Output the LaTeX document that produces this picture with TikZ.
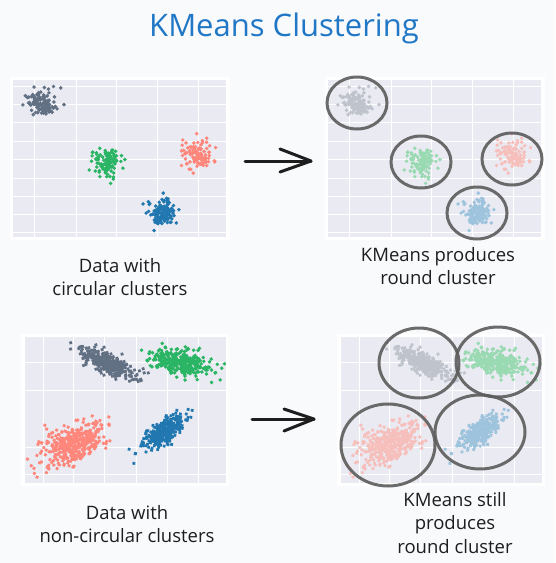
\documentclass[tikz,border=0pt]{standalone}
\usepackage{fontspec}
\setmainfont{Open Sans}
\definecolor{bg}{HTML}{F9FAFC}
\definecolor{panel}{HTML}{EAEAF2}
\definecolor{cg}{HTML}{627084}
\definecolor{cgp}{HTML}{BEC3CC}
\definecolor{cn}{HTML}{2AB564}
\definecolor{cnp}{HTML}{9ADAB2}
\definecolor{cs}{HTML}{FF867A}
\definecolor{csp}{HTML}{F7BFBB}
\definecolor{cb}{HTML}{2177B0}
\definecolor{cbp}{HTML}{9EC4DD}
\definecolor{ink}{HTML}{1E1E1E}
\definecolor{ttl}{HTML}{1F77C6}
\definecolor{ring}{HTML}{5C5C5C}

\newcommand\clust[8]{%
 \pgfmathsetseed{#1}%
 \begin{scope}[shift={(#3,#4)},rotate=#7]
 \foreach \i in {1,...,#2}{%
  \pgfmathsetmacro\ua{rnd*0.998+0.001}%
  \pgfmathsetmacro\ub{rnd}%
  \pgfmathsetmacro\rr{sqrt(-2*ln(\ua))}%
  \pgfmathsetmacro\gx{\rr*cos(360*\ub)*#5}%
  \pgfmathsetmacro\gy{\rr*sin(360*\ub)*#6}%
  \fill[#8] (\gx,\gy) circle[radius=1.95pt];
 }
 \end{scope}}

\newcommand\topdata[1]{%
 \clust{11}{120}{42}{103}{7.5}{6}{0}{cg#1}
 \clust{12}{120}{106}{163}{7}{7}{0}{cn#1}
 \clust{13}{110}{198}{155}{7}{6.5}{0}{cs#1}
 \clust{14}{120}{162}{213}{7}{6.5}{0}{cb#1}}

\newcommand\botdata[1]{%
 \clust{21}{320}{108}{363}{15}{5}{-26}{cg#1}
 \clust{22}{320}{181}{362}{14}{6}{-10}{cn#1}
 \clust{23}{380}{73}{445}{16}{8.5}{20}{cs#1}
 \clust{24}{320}{163}{432}{13.5}{5}{35}{cb#1}}

\newcommand\topgrid{%
 \fill[white] (10,77) rectangle (230,240);
 \fill[panel] (13,80) rectangle (226,237);
 \foreach \x in {34,76,116,157,198} \draw[gridline] (\x,80) -- (\x,237);
 \foreach \y in {86,104,122,141,159,178,196,214,232} \draw[gridline] (13,\y) -- (226,\y);}

\newcommand\botgrid{%
 \fill[white] (21,334) rectangle (229,486);
 \fill[panel] (25,337) rectangle (226,483);
 \foreach \x in {43,73,104,136,167,198} \draw[gridline] (\x,337) -- (\x,483);
 \foreach \y in {362,390,447,474} \draw[gridline] (25,\y) -- (226,\y);}

\tikzset{
 gridline/.style={white,line width=0.9pt},
 ringline/.style={ring,line width=3pt,opacity=0.9},
 lbl/.style={ink,align=center,font=\fontsize{18.5}{23.5}\selectfont,inner sep=0pt},
 arrowline/.style={ink,line width=3pt,line cap=round,line join=round}
}

\begin{document}
\begin{tikzpicture}[x=1pt,y=-1pt]
\useasboundingbox (0,0) rectangle (555,563);
\fill[bg] (0,0) rectangle (555,563);

% title
\node[ttl,font=\fontsize{31}{36}\selectfont,anchor=base,inner sep=0pt] (title) at (284,36) {KMeans Clustering};

% top-left panel
\topgrid
\begin{scope}
 \clip (13,80) rectangle (226,237);
 \topdata{}
\end{scope}

% top-right panel
\begin{scope}[xshift=315pt]
 \topgrid
 \begin{scope}
  \clip (13,80) rectangle (226,237);
  \topdata{p}
 \end{scope}
\end{scope}
\draw[ringline] (357,103) ellipse[x radius=30pt,y radius=26pt];
\draw[ringline] (421,162) ellipse[x radius=30pt,y radius=26pt];
\draw[ringline] (512,159) ellipse[x radius=30pt,y radius=26pt];
\draw[ringline] (477,213) ellipse[x radius=30pt,y radius=26pt];

% bottom-left panel
\botgrid
\begin{scope}
 \clip (25,337) rectangle (226,483);
 \botdata{}
\end{scope}

% bottom-right panel
\begin{scope}[xshift=316pt]
 \botgrid
 \begin{scope}
  \clip (25,337) rectangle (226,483);
  \botdata{p}
 \end{scope}
\end{scope}
\draw[ringline] (419,363) ellipse[x radius=40pt,y radius=35pt];
\draw[ringline] (498,362) ellipse[x radius=42pt,y radius=35pt];
\draw[ringline] (388,445) ellipse[x radius=47pt,y radius=41pt];
\draw[ringline] (480,432) ellipse[x radius=45pt,y radius=37pt];

% arrows
\coordinate (a1s) at (245,161);
\coordinate (a1e) at (311,161);
\coordinate (a1u) at (280,149);
\coordinate (a1d) at (280,172);
\draw[arrowline] (a1s) -- (a1e);
\draw[arrowline] (a1u) -- (a1e) -- (a1d);
\coordinate (a2s) at (252,419);
\coordinate (a2e) at (314,419);
\coordinate (a2u) at (284,409);
\coordinate (a2d) at (284,431);
\draw[arrowline] (a2s) -- (a2e);
\draw[arrowline] (a2u) -- (a2e) -- (a2d);

% labels
\node[lbl] (l1) at (120,277) {Data with\\circular clusters};
\node[lbl] (l2) at (438,266) {KMeans produces\\round cluster};
\node[lbl] (l3) at (127,524) {Data with\\non-circular clusters};
\node[lbl] (l4) at (455,523) {KMeans still\\produces\\round cluster};
\end{tikzpicture}
\end{document}
